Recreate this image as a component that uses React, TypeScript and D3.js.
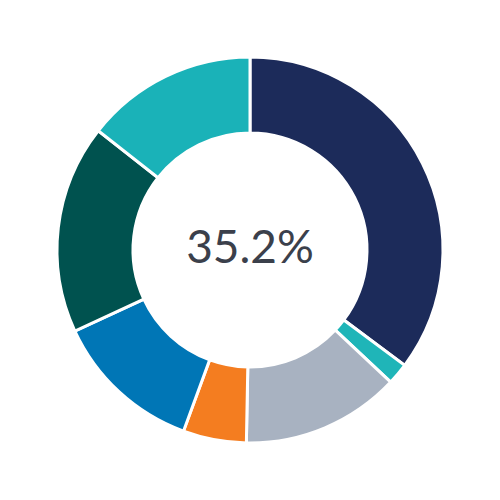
import React, { useEffect, useRef } from 'react';
import * as d3 from 'd3';

// Slice shares, clockwise from 12 o'clock
const segments = ['A', 'B', 'C', 'D', 'E', 'F', 'G'];
const values = [35.2, 1.8, 13.3, 5.3, 12.5, 17.5, 14.4];
const colors = ['#1c2b5a', '#1fb5b8', '#a8b2c1', '#f47d20', '#0076b6', '#00524f', '#1ab2b8'];
const centerLabel = '35.2%';

const App: React.FC = () => {
  const svgRef = useRef<SVGSVGElement>(null);

  useEffect(() => {
    const svg = d3.select(svgRef.current);
    svg.selectAll('*').remove();

    const width = 500;
    const height = 500;
    const outer = 193;
    const inner = 117;

    const g = svg.append('g').attr('transform', `translate(${width / 2},${height / 2})`);

    const pie = d3.pie<number>().sort(null).value(d => d);
    const arc = d3.arc<d3.PieArcDatum<number>>().innerRadius(inner).outerRadius(outer);

    g.selectAll('path')
      .data(pie(values))
      .enter()
      .append('path')
      .attr('d', arc)
      .attr('fill', (_, i) => colors[i])
      .attr('stroke', '#ffffff')
      .attr('stroke-width', 3)
      .attr('data-seg', (_, i) => segments[i]);

    g.append('text')
      .attr('x', 0)
      .attr('y', 13)
      .attr('text-anchor', 'middle')
      .style('font-family', 'Lato, sans-serif')
      .style('font-size', '46px')
      .style('fill', '#3b404b')
      .text(centerLabel);
  }, []);

  return (
    <svg
      ref={svgRef}
      width={500}
      height={500}
      style={{ position: 'absolute', left: 0, top: 0, background: '#ffffff' }}
    />
  );
};

export default App;
